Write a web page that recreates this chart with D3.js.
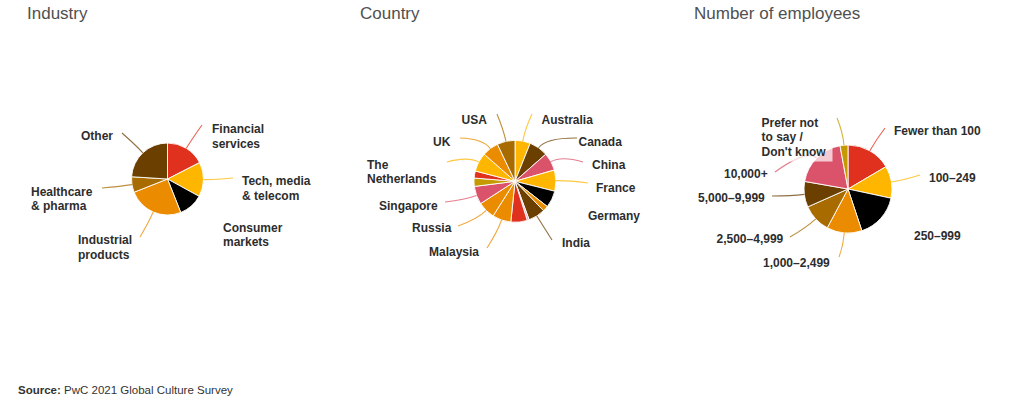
<!DOCTYPE html>
<html>
<head>
<meta charset="utf-8">
<script src="https://cdn.jsdelivr.net/npm/d3@7"></script>
<style>
  html, body { margin: 0; padding: 0; background: #fff; }
  svg { display: block; font-family: Arial, "Liberation Sans", Helvetica, sans-serif; }
</style>
</head>
<body>
<svg id="chart" width="1024" height="402"></svg>
<script>
const industryLabels = ["Financial services", "Tech, media & telecom", "Consumer markets", "Industrial products", "Healthcare & pharma", "Other"];
const industryValues = [17.5, 15.5, 11, 25, 7, 24];

// las porciones sin nombre no llevan etiqueta en el original
const countryLabels = ["Australia", "Canada", "China", "France", "Germany", "", "India", "", "", "Malaysia", "Russia", "Singapore", "", "", "The Netherlands", "UK", "USA"];
const countryValues = [6.1, 7.5, 7.1, 8.4, 6.7, 2.2, 6.7, 0.8, 6.5, 7.4, 6.9, 7.2, 3.3, 2.8, 7.5, 6.5, 7.1];

const employeeLabels = ["Fewer than 100", "100–249", "250–999", "1,000–2,499", "2,500–4,999", "5,000–9,999", "10,000+", "Prefer not to say / Don't know"];
const employeeValues = [16.5, 11.8, 16.5, 12.9, 10.5, 9.4, 19.3, 2.9];

// Colores
const red = "#e0301e", yellow = "#ffb600", black = "#000000", orange = "#eb8c00",
      brown = "#a86b00", darkBrown = "#6b3f00", rose = "#db536a", gold = "#c49a00", pink = "#f4a6b4";

const industryColors = [red, yellow, black, orange, brown, darkBrown];
const countryColors = [yellow, darkBrown, rose, yellow, black, orange, darkBrown, pink, red, orange, orange, rose, gold, red, yellow, orange, brown];
const employeeColors = [red, yellow, black, orange, brown, darkBrown, rose, gold];

// Posición de las etiquetas (x, y de la primera línea, fin de la línea guía)
const industryPlaces = {
  "Financial services": { lines: ["Financial", "services"], x: 212, y: 133, end: [202, 125] },
  "Tech, media & telecom": { lines: ["Tech, media", "& telecom"], x: 242, y: 185, end: [233, 178] },
  "Consumer markets": { lines: ["Consumer", "markets"], x: 223, y: 231.5 },
  "Industrial products": { lines: ["Industrial", "products"], x: 78, y: 244, end: [140, 237] },
  "Healthcare & pharma": { lines: ["Healthcare", "& pharma"], x: 31, y: 195.5, end: [102, 188] },
  "Other": { lines: ["Other"], x: 81, y: 140, end: [122, 133] }
};

const countryPlaces = {
  "USA": { lines: ["USA"], x: 461.5, y: 123.5, end: [497, 114] },
  "Australia": { lines: ["Australia"], x: 541.5, y: 123.5, end: [532, 114] },
  "Canada": { lines: ["Canada"], x: 578.5, y: 146, end: [577, 138] },
  "China": { lines: ["China"], x: 592, y: 168.5, end: [583, 162] },
  "France": { lines: ["France"], x: 596, y: 191.5, end: [588, 183] },
  "Germany": { lines: ["Germany"], x: 588, y: 220 },
  "India": { lines: ["India"], x: 562, y: 247, end: [552, 240] },
  "Malaysia": { lines: ["Malaysia"], x: 429, y: 256, end: [487, 248] },
  "Russia": { lines: ["Russia"], x: 412, y: 232, end: [458, 226] },
  "Singapore": { lines: ["Singapore"], x: 379, y: 210, end: [445, 202] },
  "The Netherlands": { lines: ["The", "Netherlands"], x: 367, y: 168.5, end: [447, 162] },
  "UK": { lines: ["UK"], x: 433, y: 146, end: [460, 138] }
};

const employeePlaces = {
  "Fewer than 100": { lines: ["Fewer than 100"], x: 894, y: 135, end: [885, 128] },
  "100–249": { lines: ["100–249"], x: 929, y: 181.5, end: [920, 175] },
  "250–999": { lines: ["250–999"], x: 914, y: 240 },
  "1,000–2,499": { lines: ["1,000–2,499"], x: 763, y: 266.5, end: [839, 257] },
  "2,500–4,999": { lines: ["2,500–4,999"], x: 716.5, y: 243, end: [790, 237] },
  "5,000–9,999": { lines: ["5,000–9,999"], x: 698, y: 201.5, end: [772, 196] },
  "10,000+": { lines: ["10,000+"], x: 724, y: 178, end: [775, 172] },
  "Prefer not to say / Don't know": { lines: ["Prefer not", "to say /", "Don't know"], x: 761.5, y: 126.5, end: [837, 118], box: true }
};

const svg = d3.select("#chart");

// Títulos
const titles = [
  { text: "Industry", x: 27 },
  { text: "Country", x: 360 },
  { text: "Number of employees", x: 694 }
];
svg.selectAll("text.title")
  .data(titles)
  .enter()
  .append("text")
  .attr("class", "title")
  .attr("x", d => d.x)
  .attr("y", 19)
  .attr("font-size", 17)
  .attr("fill", "#505050")
  .text(d => d.text);

// Dibuja un pastel con sus líneas guía y etiquetas
const drawPie = (labels, values, colors, places, cx, cy, radius) => {
  const rows = labels.map((name, i) => ({ name, value: values[i], color: colors[i] }));

  const pie = d3.pie()
    .value(d => d.value)
    .sort(null);

  const arc = d3.arc()
    .innerRadius(0)
    .outerRadius(radius);

  const arcs = pie(rows);

  const g = svg.append("g")
    .attr("transform", `translate(${cx}, ${cy})`);

  g.selectAll("path.slice")
    .data(arcs)
    .enter()
    .append("path")
    .attr("class", "slice")
    .attr("d", arc)
    .attr("fill", d => d.data.color)
    .attr("stroke", "#fff")
    .attr("stroke-width", 0.9);

  // Líneas guía: salen del borde en el ángulo medio y se curvan hacia la etiqueta
  const withLine = arcs.filter(d => places[d.data.name] && places[d.data.name].end);
  g.selectAll("path.leader")
    .data(withLine)
    .enter()
    .append("path")
    .attr("class", "leader")
    .attr("d", d => {
      const a = (d.startAngle + d.endAngle) / 2;
      const sx = Math.sin(a) * radius, sy = -Math.cos(a) * radius;
      const kx = Math.sin(a) * radius * 1.3, ky = -Math.cos(a) * radius * 1.3;
      const e = places[d.data.name].end;
      const path = d3.path();
      path.moveTo(sx, sy);
      path.quadraticCurveTo(kx, ky, e[0] - cx, e[1] - cy);
      return path.toString();
    })
    .attr("fill", "none")
    .attr("stroke", d => d.data.color)
    .attr("stroke-opacity", 0.75)
    .attr("stroke-width", 1.1);

  // Etiquetas
  const labelled = arcs.filter(d => places[d.data.name]);
  labelled.forEach(d => {
    const p = places[d.data.name];
    if (p.box) {
      svg.append("rect")
        .attr("x", p.x - 2)
        .attr("y", p.y - 12)
        .attr("width", 73)
        .attr("height", 47)
        .attr("fill", "#fff")
        .attr("fill-opacity", 0.7);
    }
    const t = svg.append("text")
      .attr("font-size", 12)
      .attr("font-weight", "bold")
      .attr("fill", "#2d2d2d");
    p.lines.forEach((line, i) => {
      t.append("tspan")
        .attr("x", p.x)
        .attr("y", p.y + i * 14.5)
        .text(line);
    });
  });
};

drawPie(industryLabels, industryValues, industryColors, industryPlaces, 167.5, 179, 36);
drawPie(countryLabels, countryValues, countryColors, countryPlaces, 515, 181.3, 41);
drawPie(employeeLabels, employeeValues, employeeColors, employeePlaces, 848, 189, 44);

// Fuente
const source = svg.append("text")
  .attr("x", 18)
  .attr("y", 394)
  .attr("font-size", 11.5)
  .attr("fill", "#333");
source.append("tspan").attr("font-weight", "bold").text("Source:");
source.append("tspan").text(" PwC 2021 Global Culture Survey");
</script>
</body>
</html>
